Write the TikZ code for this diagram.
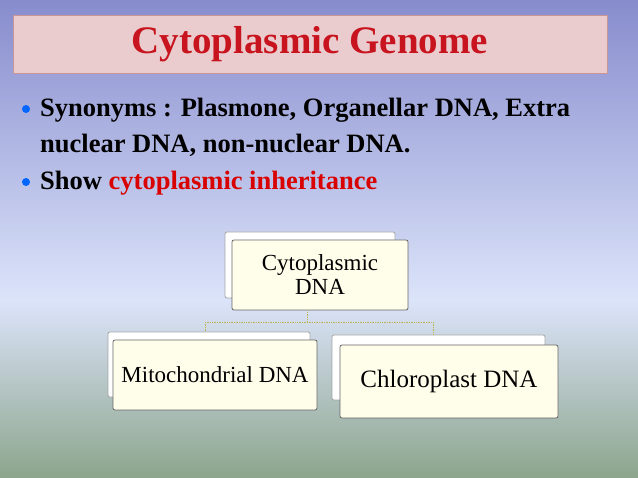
\documentclass[tikz,border=0pt]{standalone}
\usepackage{fontspec}
\setmainfont{Liberation Serif}
\begin{document}
\begin{tikzpicture}[x=1pt,y=-1pt,
  back/.style={draw=gray!70,fill=white,line width=0.8pt,rounded corners=2pt},
  front/.style={draw=gray!80!black,fill=yellow!8,line width=0.8pt,rounded corners=2pt,align=center,font=\fontsize{23}{24}\selectfont,inner sep=0pt},
  link/.style={draw=olive!60,densely dotted,line width=0.7pt}]
\useasboundingbox (0,0) rectangle (638,478);
\shade[top color={rgb,255:red,135;green,140;blue,205},bottom color={rgb,255:red,220;green,228;blue,250}] (0,0) rectangle (638,300);
\shade[top color={rgb,255:red,220;green,228;blue,250},bottom color={rgb,255:red,140;green,165;blue,140}] (0,299.5) rectangle (638,478);
\node[draw={rgb,255:red,200;green,150;blue,150},fill={rgb,255:red,234;green,204;blue,206},minimum width=594,minimum height=58,inner sep=0pt,
  text={rgb,255:red,200;green,20;blue,30},font=\bfseries\fontsize{39}{39}\selectfont] (title) at (310,44) {Cytoplasmic Genome};
\tikzset{bt/.style={anchor=west,inner sep=0pt,font=\bfseries\fontsize{26.5}{26.5}\selectfont}}
\node[bt] (b1) at (40,110) {Synonyms : Plasmone, Organellar DNA, Extra};
\node[bt] (b1b) at (40,145) {nuclear DNA, non-nuclear DNA.};
\node[bt] (b2) at (40,183) {Show \textcolor{red!85!black}{cytoplasmic inheritance}};
\fill[blue!60!cyan] (b1.west)+(-14,-1) circle (4);
\fill[blue!60!cyan] (b2.west)+(-14,-1) circle (4);
\draw[back] (225,232) rectangle (395,298);
\draw[back] (108,332) rectangle (310,397);
\draw[back] (332,335) rectangle (545,400);
\node[front,minimum width=176,minimum height=70] (c) at (320,275) {Cytoplasmic\\DNA};
\node[front,minimum width=204,minimum height=70] (m) at (215,375) {Mitochondrial DNA};
\node[front,minimum width=218,minimum height=73] (p) at (449,381.5) {\fontsize{25}{25}\selectfont Chloroplast DNA};
\coordinate (j) at (307,322);
\draw[link] (c.south -| j) -- (j);
\draw[link] (205,322) -- (433,322);
\draw[link] (205,322) -- (205,332);
\draw[link] (433,322) -- (433,335);
\end{tikzpicture}
\end{document}
